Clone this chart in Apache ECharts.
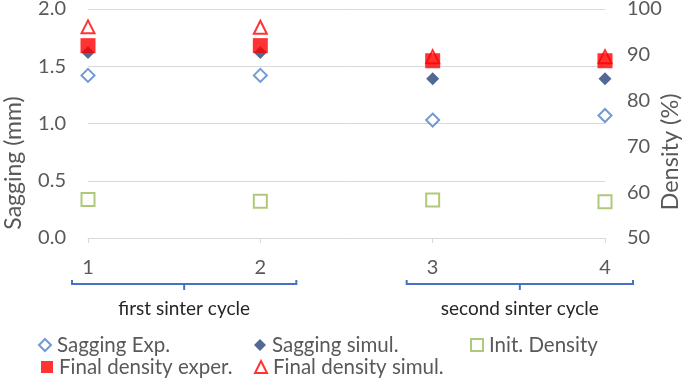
<!DOCTYPE html>
<html>
<head>
<meta charset="utf-8">
<script src="https://cdn.jsdelivr.net/npm/echarts@6/dist/echarts.min.js"></script>
<style>
html,body{margin:0;padding:0;background:#fff;}
#chart{width:685px;height:380px;}
</style>
</head>
<body>
<div id="chart"></div>
<script>
var categories = ['1', '2', '3', '4'];
var saggingExp = [1.42, 1.42, 1.03, 1.07];
var saggingSimul = [1.62, 1.62, 1.39, 1.39];
var initDensity = [58.4, 58.0, 58.3, 57.9];
var finalDensityExper = [92.0, 92.0, 88.7, 88.7];
var finalDensitySimul = [96.1, 96.0, 89.6, 89.6];
var leftTicks = {min: 0, max: 2, interval: 0.5};
var rightTicks = {min: 50, max: 100, interval: 10};
var axisTitles = ['Sagging (mm)', 'Density (%)'];
var groupLabels = ['first sinter cycle', 'second sinter cycle'];

var FONT = 'Lato';
var GREY = '#595959';
var chart = echarts.init(document.getElementById('chart'), null, {renderer: 'canvas'});

function legendAt(name, left, top) {
  return {
    data: [name], left: left, top: top, padding: 0, itemWidth: 12, itemHeight: 12,
    textStyle: {fontFamily: FONT, fontSize: 20.5, color: GREY, lineHeight: 22, padding: [0, 0, 0, 1]},
    selectedMode: false
  };
}

var option = {
  animation: false,
  backgroundColor: '#fff',
  grid: {left: 88, right: 80, top: 9, bottom: 142, outerBoundsMode: 'none', containLabel: false},
  xAxis: {
    type: 'category', data: categories, boundaryGap: false,
    axisLine: {lineStyle: {color: '#D9D9D9', width: 1}},
    axisTick: {show: true, length: 5, lineStyle: {color: '#D9D9D9'}},
    axisLabel: {fontFamily: FONT, fontSize: 20, color: GREY, margin: 20},
    splitLine: {show: false}
  },
  yAxis: [{
    type: 'value', min: leftTicks.min, max: leftTicks.max, interval: leftTicks.interval,
    axisLine: {show: false}, axisTick: {show: false},
    axisLabel: {fontFamily: FONT, fontSize: 20, color: GREY, margin: 22, formatter: function (v) { return v.toFixed(1); }},
    splitLine: {lineStyle: {color: '#D9D9D9', width: 1}}
  }, {
    type: 'value', min: rightTicks.min, max: rightTicks.max, interval: rightTicks.interval,
    axisLine: {show: false}, axisTick: {show: false},
    axisLabel: {fontFamily: FONT, fontSize: 20, color: GREY, margin: 22},
    splitLine: {show: false}
  }],
  legend: [
    legendAt('Sagging Exp.', 38, 334),
    legendAt('Sagging simul.', 254, 334),
    legendAt('Init. Density', 470, 334),
    legendAt('Final density exper.', 41, 356),
    legendAt('Final density simul.', 254, 356)
  ],
  series: [{
    name: 'Sagging Exp.', type: 'scatter', yAxisIndex: 0, data: saggingExp, z: 2,
    symbol: 'diamond', symbolSize: 13,
    itemStyle: {color: '#fff', borderColor: '#4F81C7', borderWidth: 2}
  }, {
    name: 'Sagging simul.', type: 'scatter', yAxisIndex: 0, data: saggingSimul, z: 3,
    symbol: 'diamond', symbolSize: 13,
    itemStyle: {color: '#264478', borderColor: '#264478', borderWidth: 0}
  }, {
    name: 'Init. Density', type: 'scatter', yAxisIndex: 1, data: initDensity, z: 4,
    symbol: 'rect', symbolSize: 13,
    itemStyle: {color: '#fff', borderColor: '#9BBB59', borderWidth: 2}
  }, {
    name: 'Final density simul.', type: 'scatter', yAxisIndex: 1, data: finalDensitySimul, z: 5,
    symbol: 'triangle', symbolSize: 13,
    itemStyle: {color: '#fff', borderColor: '#FF0000', borderWidth: 2}
  }, {
    name: 'Final density exper.', type: 'scatter', yAxisIndex: 1, data: finalDensityExper, z: 6,
    symbol: 'rect', symbolSize: 15,
    itemStyle: {color: '#FF0000', borderColor: '#FF0000', borderWidth: 0, borderRadius: 2}
  }]
};
chart.setOption(option);

var graphics = [];
// axis titles (rotated, reading bottom to top)
graphics.push({
  type: 'text', silent: true, x: 14, y: 163, rotation: Math.PI / 2,
  style: {text: axisTitles[0], fontFamily: FONT, fontSize: 23, fill: GREY, align: 'center', verticalAlign: 'middle'}
});
graphics.push({
  type: 'text', silent: true, x: 670, y: 152, rotation: Math.PI / 2,
  style: {text: axisTitles[1], fontFamily: FONT, fontSize: 23.5, fill: GREY, align: 'center', verticalAlign: 'middle'}
});

// group brackets under the category axis
var p = categories.map(function (c) { return chart.convertToPixel({xAxisIndex: 0}, c); });
var groups = [[p[0] - 16, p[1] + 36], [p[2] - 26, p[3] + 28]];
var by = 284, capUp = 4, tickDown = 6;
groups.forEach(function (g, i) {
  var mid = (g[0] + g[1]) / 2;
  graphics.push({
    type: 'polyline', silent: true,
    shape: {points: [[g[0], by - capUp], [g[0], by], [g[1], by], [g[1], by - capUp]]},
    style: {stroke: '#4472C4', lineWidth: 2, fill: null}
  });
  graphics.push({
    type: 'line', silent: true,
    shape: {x1: mid, y1: by, x2: mid, y2: by + tickDown},
    style: {stroke: '#4472C4', lineWidth: 2}
  });
  graphics.push({
    type: 'text', silent: true, x: mid, y: 309,
    style: {text: groupLabels[i], fontFamily: FONT, fontSize: 19, fill: '#262626', align: 'center', verticalAlign: 'middle'}
  });
});
chart.setOption({graphic: graphics});
</script>
</body>
</html>
